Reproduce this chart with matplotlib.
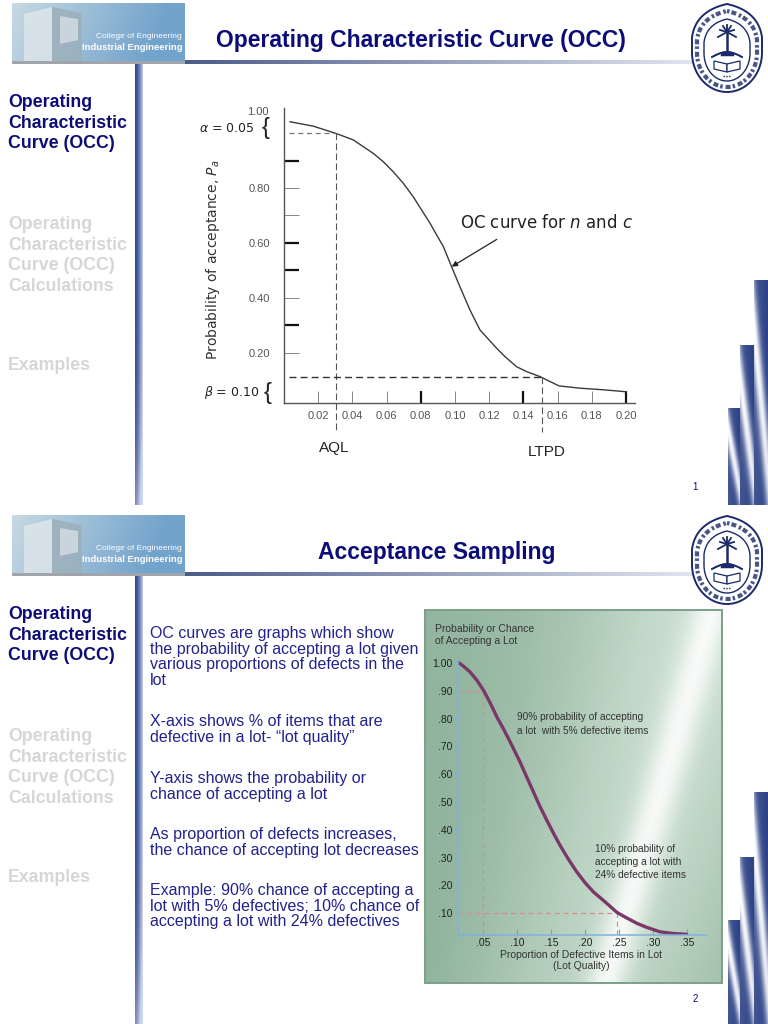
import numpy as np
import matplotlib.pyplot as plt
from matplotlib.patches import Rectangle, Polygon

plt.rcParams['font.family'] = ['Liberation Sans', 'DejaVu Sans']
plt.rcParams['mathtext.fontset'] = 'dejavusans'

NAVY = '#0c0c78'
TEXT_BLUE = '#22228c'
FADED = '#d6d6d6'

# ---- slide 1 : OC curve for n and c ----
oc1_p = [0.0035, 0.0171, 0.0302, 0.0405, 0.0522, 0.058, 0.0639, 0.0698, 0.0756, 0.0805,
         0.0854, 0.0893, 0.0932, 0.098, 0.1029, 0.1088, 0.1146, 0.1244, 0.1292, 0.136,
         0.142, 0.1497, 0.1556, 0.161, 0.173, 0.1868, 0.20]
oc1_pa = [1.041, 1.025, 0.999, 0.975, 0.926, 0.896, 0.859, 0.817, 0.768, 0.720,
          0.672, 0.629, 0.587, 0.514, 0.441, 0.356, 0.284, 0.217, 0.187, 0.150,
          0.132, 0.114, 0.096, 0.080, 0.072, 0.066, 0.059]
oc1_xticks = [0.02, 0.04, 0.06, 0.08, 0.10, 0.12, 0.14, 0.16, 0.18, 0.20]
oc1_xlabels = ['0.02', '0.04', '0.06', '0.08', '0.10', '0.12', '0.14', '0.16', '0.18', '0.20']
oc1_xheavy = [False, False, False, True, False, False, True, False, False, True]
oc1_yticks = [0.2, 0.3, 0.4, 0.5, 0.6, 0.7, 0.8, 0.9]
oc1_ylabels = ['0.20', '', '0.40', '', '0.60', '', '0.80', '']
oc1_yheavy = [False, True, False, True, True, False, False, True]
aql, aql_pa = 0.0302, 0.999
ltpd, ltpd_pa = 0.151, 0.112

# ---- slide 2 : acceptance sampling ----
oc2_p = [0.013, 0.020, 0.030, 0.040, 0.05, 0.060, 0.0698, 0.080, 0.0894, 0.104, 0.114,
         0.1238, 0.133, 0.1435, 0.153, 0.163, 0.175, 0.1877, 0.20, 0.2122, 0.23, 0.247,
         0.26, 0.2762, 0.29, 0.3106, 0.33, 0.35]
oc2_pa = [1.002, 0.990, 0.969, 0.940, 0.903, 0.857, 0.807, 0.762, 0.717, 0.645, 0.590,
          0.537, 0.487, 0.435, 0.390, 0.345, 0.296, 0.249, 0.210, 0.177, 0.140, 0.103,
          0.085, 0.064, 0.050, 0.033, 0.027, 0.024]
oc2_xticks = [0.05, 0.10, 0.15, 0.20, 0.25, 0.30, 0.35]
oc2_xlabels = ['.05', '.10', '.15', '.20', '.25', '.30', '.35']
oc2_yticks = [0.1, 0.2, 0.3, 0.4, 0.5, 0.6, 0.7, 0.8, 0.9, 1.0]
oc2_ylabels = ['.10', '.20', '.30', '.40', '.50', '.60', '.70', '.80', '.90', '1.00']
good_p, good_pa = 0.05, 0.90
bad_p, bad_pa = 0.247, 0.10

slide_titles = ['Operating Characteristic Curve (OCC)', 'Acceptance Sampling']
title_x = [421, 437]
bullets = [
    'OC curves are graphs which show\nthe probability of accepting a lot given\nvarious proportions of defects in the\nlot',
    'X-axis shows % of items that are\ndefective in a lot- \u201clot quality\u201d',
    'Y-axis shows the probability or\nchance of accepting a lot',
    'As proportion of defects increases,\nthe chance of accepting lot decreases',
    'Example: 90% chance of accepting a\nlot with 5% defectives; 10% chance of\naccepting a lot with 24% defectives',
]
bullet_y = [626, 714, 771, 827, 883]

fig = plt.figure(figsize=(7.68, 10.24), dpi=100)
bg = fig.add_axes([0, 0, 1, 1])
bg.axis('off')


def gbox(x0, x1, y0, y1, img, z=1):
    bg.imshow(img, extent=(x0, x1, y1, y0), aspect='auto', interpolation='bilinear', zorder=z)


def mix(c0, c1, t):
    c0 = np.array(c0)
    c1 = np.array(c1)
    return c0 + (c1 - c0) * t[..., None]


def shield(cx, cy, w, h):
    top, bot, a = cy - h / 2, cy + h / 2, w / 2
    t = np.linspace(0, 1, 30)[:, None]
    p0 = np.array([cx, top])
    p1 = np.array([cx + a * 0.9, top + h * 0.08])
    p2 = np.array([cx + a, cy - h * 0.12])
    bez = (1 - t) ** 2 * p0 + 2 * (1 - t) * t * p1 + t ** 2 * p2
    yc = cy + h * 0.05
    th = np.linspace(0, np.pi / 2, 30)
    btm = np.column_stack([cx + a * np.cos(th), yc + (bot - yc) * np.sin(th)])
    right = np.vstack([bez, btm])
    left = right[::-1].copy()
    left[:, 0] = 2 * cx - left[:, 0]
    return np.vstack([right, left])


def emblem(cx, cy):
    c = '#1a2a6a'
    bg.add_patch(Polygon(shield(cx, cy, 70, 88), fc='white', ec=c, lw=1.4, zorder=5))
    ring = shield(cx, cy + 1, 60, 76)
    bg.plot(ring[:, 0], ring[:, 1], color=c, lw=3.0, ls=(0, (0.6, 0.5, 1.2, 0.7)), alpha=0.8, zorder=6)
    bg.add_patch(Polygon(shield(cx, cy + 2, 46, 62), fc='white', ec=c, lw=1.0, zorder=6))
    bg.plot([cx, cx], [cy - 16, cy + 4], color=c, lw=1.8, zorder=7)
    for dx, dy in [(-9, 5), (-7, -2), (7, -2), (9, 5), (0, -7), (-4, -6), (4, -6)]:
        bg.plot([cx, cx + dx], [cy - 16, cy - 16 + dy], color=c, lw=1.3, zorder=7)
    t = np.linspace(0, 1, 20)
    bg.plot(cx - 15 + 30 * t, cy + 9 - 5 * np.sin(np.pi * t), color=c, lw=1.2, zorder=7)
    bg.plot(cx + 15 - 30 * t, cy + 9 - 5 * np.sin(np.pi * t), color=c, lw=1.2, zorder=7)
    bg.plot([cx - 5, cx + 5], [cy + 6, cy + 6], color=c, lw=2.5, zorder=7)
    for sgn in (-1, 1):
        bg.add_patch(Polygon([(cx + sgn * 13, cy + 13), (cx, cy + 16), (cx, cy + 24), (cx + sgn * 13, cy + 21)],
                             fc='white', ec=c, lw=0.9, zorder=7))
    bg.plot([cx - 4, cx + 4], [cy + 28, cy + 28], color=c, lw=1.0, ls=(0, (1, 1)), zorder=7)


def frame(off, title, tx, page, bottom):
    # logo box
    u, v = np.meshgrid(np.linspace(0, 1, 120), np.linspace(0, 1, 40))
    img = mix((0.78, 0.85, 0.89), (0.45, 0.64, 0.80), np.clip(u * 1.1 + 0.15 * v, 0, 1))
    gbox(12, 185, off + 3, off + 61, img)
    bg.add_patch(Polygon([(24, off + 14), (52, off + 7), (52, off + 61), (24, off + 61)],
                         fc='#dde5ea', ec='none', alpha=0.85, zorder=2))
    bg.add_patch(Polygon([(52, off + 7), (82, off + 13), (82, off + 61), (52, off + 61)],
                         fc='#9db0bd', ec='none', alpha=0.9, zorder=2))
    bg.add_patch(Polygon([(60, off + 16), (78, off + 19), (78, off + 40), (60, off + 44)],
                         fc='#c9d4dc', ec='none', zorder=2))
    bg.text(182, off + 37, 'College of Engineering', color='white', fontsize=6,
            ha='right', va='center', zorder=3)
    bg.text(183, off + 48, 'Industrial Engineering', color='white', fontsize=6.8,
            fontweight='bold', ha='right', va='center', zorder=3)
    bg.add_patch(Rectangle((12, off + 61), 173, 2.5, fc='#a0a4ad', ec='none', zorder=2))
    # header rule
    u = np.linspace(0, 1, 200)[None, :].repeat(4, 0)
    gbox(185, 695, off + 60, off + 64, mix((0.30, 0.36, 0.54), (0.88, 0.90, 0.94), u))
    bg.text(tx, off + 40, title, color=NAVY, fontsize=16.5, fontweight='bold',
            ha='center', va='center', zorder=3)
    emblem(727, off + 48)
    # sidebar bar
    u, v = np.meshgrid(np.linspace(0, 1, 10), np.linspace(0, 1, 100))
    img = mix((0.20, 0.28, 0.56), (0.80, 0.84, 0.92), np.clip(u ** 1.5 * 0.9 + v ** 6 * 0.5, 0, 1))
    gbox(135, 143, off + 63, bottom, img)
    # right decorative bars
    for x0, x1, top in [(754, 768, 280), (740, 754, 345), (728, 740, 408)]:
        u, v = np.meshgrid(np.linspace(0, 1, 20), np.linspace(0, 1, 100))
        d = u - 1.6 * v + 0.35
        t = np.clip(1 - np.exp(-(d / 0.35) ** 2), 0, 1) * 0.85 + 0.1 * u
        img = mix((1, 1, 1), (0.13, 0.22, 0.50), np.clip(t, 0, 1))
        gbox(x0, x1, off + top, bottom, img)
    bg.text(695, off + 487, page, color=NAVY, fontsize=7, ha='center', va='center')


def sidebar(off, active):
    items = ['Operating\nCharacteristic\nCurve (OCC)',
             'Operating\nCharacteristic\nCurve (OCC)\nCalculations',
             'Examples']
    tops = [94, 216, 357]
    for i, (txt, top) in enumerate(zip(items, tops)):
        bg.text(8, off + top, txt, color=NAVY if i == active else FADED, fontsize=12.8,
                fontweight='bold', ha='left', va='top', linespacing=1.27)


frame(0, slide_titles[0], title_x[0], '1', 505)
frame(512, slide_titles[1], title_x[1], '2', 1024)
sidebar(0, 0)
sidebar(512, 0)

# ---- slide 2 text ----
for txt, y in zip(bullets, bullet_y):
    bg.text(150, y, txt, color=TEXT_BLUE, fontsize=11.5, ha='left', va='top', linespacing=1.06)

# ---- slide 2 green panel ----
u, v = np.meshgrid(np.linspace(0, 1, 160), np.linspace(0, 1, 200))
d = u - (0.97 - 0.36 * v)
t = 0.25 + 0.6 * np.exp(-(d / 0.5) ** 2) - 0.15 * v
img = mix((0.48, 0.64, 0.54), (0.86, 0.92, 0.87), np.clip(t, 0, 1))
hl = np.exp(-(d / 0.07) ** 2) * 0.85
img = img + (1 - img) * hl[..., None]
gbox(425, 722, 610, 983, img)
bg.add_patch(Rectangle((425, 610), 297, 373, fc='none', ec='#7d9f89', lw=1.4, zorder=2))

bg.text(435, 624, 'Probability or Chance\nof Accepting a Lot', color='#333333', fontsize=7.5,
        ha='left', va='top', linespacing=1.25, zorder=3)
bg.text(517, 712, '90% probability of accepting\na lot  with 5% defective items', color='#333333',
        fontsize=7.3, ha='left', va='top', linespacing=1.45, zorder=3)
bg.text(595, 844, '10% probability of\naccepting a lot with\n24% defective items', color='#333333',
        fontsize=7.3, ha='left', va='top', linespacing=1.4, zorder=3)
bg.text(581, 950, 'Proportion of Defective Items in Lot\n(Lot Quality)', color='#333333',
        fontsize=7.5, ha='center', va='top', linespacing=1.15, zorder=3)

# ---- slide 1 labels outside axes ----
bg.text(334, 448, 'AQL', color='#222222', fontsize=11, ha='center', va='center')
bg.text(547, 452, 'LTPD', color='#222222', fontsize=11, ha='center', va='center')

bg.set_xlim(0, 768)
bg.set_ylim(1024, 0)

# ---- chart 1 ----
ax1 = fig.add_axes([284 / 768, 1 - 403 / 1024, 351 / 768, 295 / 1024])
ax1.set_facecolor('none')
ax1.plot(oc1_p, oc1_pa, color='#3a3a3a', lw=1.0)
ax1.plot([0.003, aql], [aql_pa, aql_pa], color='#777777', lw=0.9, ls=(0, (4, 3)))
ax1.plot([aql, aql], [aql_pa, -0.086], color='#555555', lw=0.8, ls=(0, (6, 3)), clip_on=False)
ax1.plot([0.003, ltpd], [ltpd_pa, ltpd_pa], color='#333333', lw=1.0, ls=(0, (5, 3)))
ax1.plot([ltpd, ltpd], [ltpd_pa, -0.086], color='#555555', lw=0.8, ls=(0, (6, 3)), clip_on=False)
ax1.annotate('', xy=(0.0981, 0.514), xytext=(0.1244, 0.613),
             arrowprops=dict(arrowstyle='-|>', color='#222222', lw=0.9, mutation_scale=8,
                             shrinkA=0, shrinkB=0))
ax1.text(0.1029, 0.674, 'OC curve for $n$ and $c$', family='DejaVu Sans', fontsize=12,
         color='#222222', ha='left', va='center')
ax1.set_xlim(0, 0.2053)
ax1.set_ylim(0.018, 1.091)
for s in ['top', 'right']:
    ax1.spines[s].set_visible(False)
for s in ['left', 'bottom']:
    ax1.spines[s].set_color('#555555')
    ax1.spines[s].set_linewidth(1.0)
ax1.set_yticks(oc1_yticks, oc1_ylabels)
ax1.set_xticks(oc1_xticks, oc1_xlabels)
ax1.tick_params(axis='y', direction='in', length=11, pad=10, labelsize=8, labelcolor='#555555')
ax1.tick_params(axis='x', direction='in', length=9, pad=6, labelsize=8, labelcolor='#555555')
for tk, heavy in zip(ax1.yaxis.get_major_ticks(), oc1_yheavy):
    tk.tick1line.set_markeredgewidth(1.6 if heavy else 0.7)
    tk.tick1line.set_markeredgecolor('#111111' if heavy else '#888888')
for tk, heavy in zip(ax1.xaxis.get_major_ticks(), oc1_xheavy):
    tk.tick1line.set_markeredgewidth(1.6 if heavy else 0.7)
    tk.tick1line.set_markeredgecolor('#111111' if heavy else '#888888')
ax1.text(-0.0088, 1.077, '1.00', fontsize=8, color='#555555', ha='right', va='center')
ax1.text(-0.0175, 1.018, '$\\alpha$ = 0.05', family='DejaVu Sans', fontsize=9, color='#222222',
         ha='right', va='center')
ax1.text(-0.0105, 1.018, '{', fontsize=17, color='#222222', ha='center', va='center')
ax1.text(-0.0145, 0.055, '$\\beta$ = 0.10', family='DejaVu Sans', fontsize=9, color='#222222',
         ha='right', va='center')
ax1.text(-0.0095, 0.055, '{', fontsize=17, color='#222222', ha='center', va='center')
ax1.set_ylabel('Probability of acceptance, $P_a$', family='DejaVu Sans', fontsize=10, color='#333333')
ax1.yaxis.set_label_coords(-0.178, 0.485)

# ---- chart 2 ----
ax2 = fig.add_axes([458.3 / 768, 1 - 935 / 1024, 248.4 / 768, 275 / 1024])
ax2.set_facecolor('none')
ax2.plot([0.0131, good_p], [good_pa, good_pa], color='#d98c8c', lw=0.9, ls=(0, (4, 3)))
ax2.plot([good_p, good_p], [0.0216, good_pa], color='#d98c8c', lw=0.9, ls=(0, (4, 3)))
ax2.plot([0.0131, bad_p], [bad_pa, bad_pa], color='#d98c8c', lw=0.9, ls=(0, (4, 3)))
ax2.plot([bad_p, bad_p], [0.0216, bad_pa], color='#d98c8c', lw=0.9, ls=(0, (4, 3)))
ax2.plot(oc2_p, oc2_pa, color='#7a3868', lw=2.4, solid_capstyle='round')
ax2.set_xlim(0.0131, 0.3795)
ax2.set_ylim(0.0216, 1.011)
for s in ['top', 'right']:
    ax2.spines[s].set_visible(False)
for s in ['left', 'bottom']:
    ax2.spines[s].set_color('#7fb2dc')
    ax2.spines[s].set_linewidth(1.1)
ax2.set_yticks(oc2_yticks, oc2_ylabels)
ax2.set_xticks(oc2_xticks, oc2_xlabels)
ax2.tick_params(axis='y', direction='out', length=3, pad=1, color='#7fb2dc', labelsize=7.5,
                labelcolor='#222222')
ax2.tick_params(axis='x', direction='in', length=4, pad=2, color='#7fa0b8', labelsize=7.5,
                labelcolor='#222222')

fig.savefig('out.png', dpi=100)
